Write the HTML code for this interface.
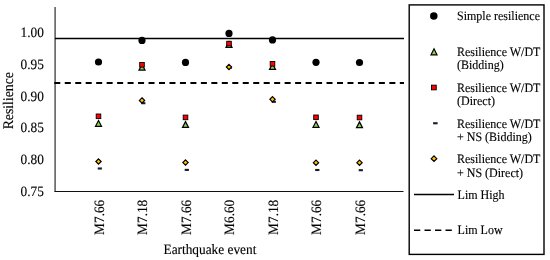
<!DOCTYPE html>
<html><head><meta charset="utf-8"><style>
html,body{margin:0;padding:0;background:#fff;}
svg{display:block;}
text{text-rendering:geometricPrecision;stroke:#000;stroke-width:0.12px;}
.ax{font-family:"Liberation Serif","Times New Roman",serif;font-size:13.33px;fill:#000;}
.lg{font-family:"Liberation Serif","Times New Roman",serif;font-size:12px;fill:#000;}
</style></head><body>
<svg width="550" height="260" viewBox="0 0 550 260">
<rect width="550" height="260" fill="#fff"/>
<line x1="55.1" y1="7" x2="55.1" y2="191.8" stroke="#555" stroke-width="1.5"/>
<line x1="54.5" y1="191.5" x2="403.5" y2="191.5" stroke="#111" stroke-width="1.2"/>
<text transform="translate(43.90,36.90) scale(1,1.07)" text-anchor="end" class="ax">1.00</text>
<text transform="translate(43.90,68.74) scale(1,1.07)" text-anchor="end" class="ax">0.95</text>
<text transform="translate(43.90,100.58) scale(1,1.07)" text-anchor="end" class="ax">0.90</text>
<text transform="translate(43.90,132.42) scale(1,1.07)" text-anchor="end" class="ax">0.85</text>
<text transform="translate(43.90,164.26) scale(1,1.07)" text-anchor="end" class="ax">0.80</text>
<text transform="translate(43.90,196.10) scale(1,1.07)" text-anchor="end" class="ax">0.75</text>
<line x1="55" y1="38.5" x2="404" y2="38.5" stroke="#000" stroke-width="1.6"/>
<line x1="54.3" y1="83" x2="404" y2="83" stroke="#000" stroke-width="1.8" stroke-dasharray="6 4.47"/>
<circle cx="98.50" cy="62.00" r="3.6" fill="#000"/>
<circle cx="142.00" cy="40.40" r="3.6" fill="#000"/>
<circle cx="185.50" cy="62.40" r="3.6" fill="#000"/>
<circle cx="229.00" cy="33.40" r="3.6" fill="#000"/>
<circle cx="272.50" cy="39.90" r="3.6" fill="#000"/>
<circle cx="316.00" cy="62.30" r="3.6" fill="#000"/>
<circle cx="359.50" cy="62.50" r="3.6" fill="#000"/>
<path d="M98.50,120.50 L101.50,126.30 L95.50,126.30 Z" fill="#92D050" stroke="#000" stroke-width="1.2" stroke-linejoin="miter"/>
<path d="M142.00,64.30 L145.00,70.10 L139.00,70.10 Z" fill="#92D050" stroke="#000" stroke-width="1.2" stroke-linejoin="miter"/>
<path d="M185.50,121.60 L188.50,127.40 L182.50,127.40 Z" fill="#92D050" stroke="#000" stroke-width="1.2" stroke-linejoin="miter"/>
<path d="M229.00,41.60 L232.00,47.40 L226.00,47.40 Z" fill="#92D050" stroke="#000" stroke-width="1.2" stroke-linejoin="miter"/>
<path d="M272.50,63.60 L275.50,69.40 L269.50,69.40 Z" fill="#92D050" stroke="#000" stroke-width="1.2" stroke-linejoin="miter"/>
<path d="M316.00,121.50 L319.00,127.30 L313.00,127.30 Z" fill="#92D050" stroke="#000" stroke-width="1.2" stroke-linejoin="miter"/>
<path d="M359.50,121.90 L362.50,127.70 L356.50,127.70 Z" fill="#92D050" stroke="#000" stroke-width="1.2" stroke-linejoin="miter"/>
<rect x="96.20" y="114.00" width="4.6" height="4.6" fill="#FF0000" stroke="#000" stroke-width="0.9"/>
<rect x="139.70" y="62.50" width="4.6" height="4.6" fill="#FF0000" stroke="#000" stroke-width="0.9"/>
<rect x="183.20" y="115.10" width="4.6" height="4.6" fill="#FF0000" stroke="#000" stroke-width="0.9"/>
<rect x="226.70" y="41.30" width="4.6" height="4.6" fill="#FF0000" stroke="#000" stroke-width="0.9"/>
<rect x="270.20" y="61.50" width="4.6" height="4.6" fill="#FF0000" stroke="#000" stroke-width="0.9"/>
<rect x="313.70" y="115.00" width="4.6" height="4.6" fill="#FF0000" stroke="#000" stroke-width="0.9"/>
<rect x="357.20" y="115.20" width="4.6" height="4.6" fill="#FF0000" stroke="#000" stroke-width="0.9"/>
<rect x="97.70" y="167.45" width="4.2" height="2.1" fill="#141d2b"/>
<rect x="141.20" y="102.15" width="4.2" height="2.1" fill="#141d2b"/>
<rect x="184.70" y="168.85" width="4.2" height="2.1" fill="#141d2b"/>
<rect x="227.60" y="66.75" width="4.2" height="2.1" fill="#141d2b"/>
<rect x="271.70" y="100.75" width="4.2" height="2.1" fill="#141d2b"/>
<rect x="315.20" y="168.95" width="4.2" height="2.1" fill="#141d2b"/>
<rect x="358.70" y="169.15" width="4.2" height="2.1" fill="#141d2b"/>
<path d="M98.50,158.85 L101.15,161.50 L98.50,164.15 L95.85,161.50 Z" fill="#FFC000" stroke="#000" stroke-width="1.2"/>
<path d="M142.00,97.75 L144.65,100.40 L142.00,103.05 L139.35,100.40 Z" fill="#FFC000" stroke="#000" stroke-width="1.2"/>
<path d="M185.50,159.95 L188.15,162.60 L185.50,165.25 L182.85,162.60 Z" fill="#FFC000" stroke="#000" stroke-width="1.2"/>
<path d="M229.00,64.35 L231.65,67.00 L229.00,69.65 L226.35,67.00 Z" fill="#FFC000" stroke="#000" stroke-width="1.2"/>
<path d="M272.50,96.65 L275.15,99.30 L272.50,101.95 L269.85,99.30 Z" fill="#FFC000" stroke="#000" stroke-width="1.2"/>
<path d="M316.00,160.05 L318.65,162.70 L316.00,165.35 L313.35,162.70 Z" fill="#FFC000" stroke="#000" stroke-width="1.2"/>
<path d="M359.50,160.05 L362.15,162.70 L359.50,165.35 L356.85,162.70 Z" fill="#FFC000" stroke="#000" stroke-width="1.2"/>
<text transform="translate(103.90,199.70) rotate(-90) scale(1,1.07)" text-anchor="end" class="ax">M7.66</text>
<text transform="translate(147.40,199.70) rotate(-90) scale(1,1.07)" text-anchor="end" class="ax">M7.18</text>
<text transform="translate(190.90,199.70) rotate(-90) scale(1,1.07)" text-anchor="end" class="ax">M7.66</text>
<text transform="translate(234.40,199.70) rotate(-90) scale(1,1.07)" text-anchor="end" class="ax">M6.60</text>
<text transform="translate(277.90,199.70) rotate(-90) scale(1,1.07)" text-anchor="end" class="ax">M7.18</text>
<text transform="translate(321.40,199.70) rotate(-90) scale(1,1.07)" text-anchor="end" class="ax">M7.66</text>
<text transform="translate(364.90,199.70) rotate(-90) scale(1,1.07)" text-anchor="end" class="ax">M7.66</text>
<text transform="translate(163.50,253.70) scale(1,1.07)" class="ax">Earthquake event</text>
<text transform="translate(13.20,100.70) rotate(-90) scale(1,1.07)" text-anchor="middle" class="ax" style="font-size:13.75px">Resilience</text>
<rect x="409.2" y="4.9" width="134.8" height="249.5" fill="none" stroke="#000" stroke-width="1.4"/>
<circle cx="433.80" cy="16.00" r="3.75" fill="#000"/>
<text transform="translate(457.00,20.20) scale(1,1.07)" class="lg">Simple resilience</text>
<path d="M434.00,48.80 L437.00,54.80 L431.00,54.80 Z" fill="#92D050" stroke="#000" stroke-width="1.2" stroke-linejoin="miter"/>
<text transform="translate(457.00,55.70) scale(1,1.07)" class="lg">Resilience W/DT</text>
<text transform="translate(457.00,69.20) scale(1,1.07)" class="lg">(Bidding)</text>
<rect x="431.55" y="85.15" width="4.7" height="4.7" fill="#FF0000" stroke="#000" stroke-width="0.9"/>
<text transform="translate(457.00,91.60) scale(1,1.07)" class="lg">Resilience W/DT</text>
<text transform="translate(457.00,105.10) scale(1,1.07)" class="lg">(Direct)</text>
<rect x="433.1" y="122.2" width="4.5" height="2.1" fill="#141d2b"/>
<text transform="translate(457.00,127.50) scale(1,1.07)" class="lg">Resilience W/DT</text>
<text transform="translate(457.00,141.00) scale(1,1.07)" class="lg">+ NS (Bidding)</text>
<path d="M434.00,155.90 L436.80,158.70 L434.00,161.50 L431.20,158.70 Z" fill="#FFC000" stroke="#000" stroke-width="1.2"/>
<text transform="translate(457.00,163.00) scale(1,1.07)" class="lg">Resilience W/DT</text>
<text transform="translate(457.00,176.50) scale(1,1.07)" class="lg">+ NS (Direct)</text>
<line x1="414" y1="194.6" x2="454" y2="194.6" stroke="#000" stroke-width="1.5"/>
<text transform="translate(457.60,198.50) scale(1,1.07)" class="lg">Lim High</text>
<line x1="414" y1="230.2" x2="452" y2="230.2" stroke="#000" stroke-width="1.6" stroke-dasharray="6.3 4.2"/>
<text transform="translate(457.60,234.20) scale(1,1.07)" class="lg">Lim Low</text>
</svg>
</body></html>
